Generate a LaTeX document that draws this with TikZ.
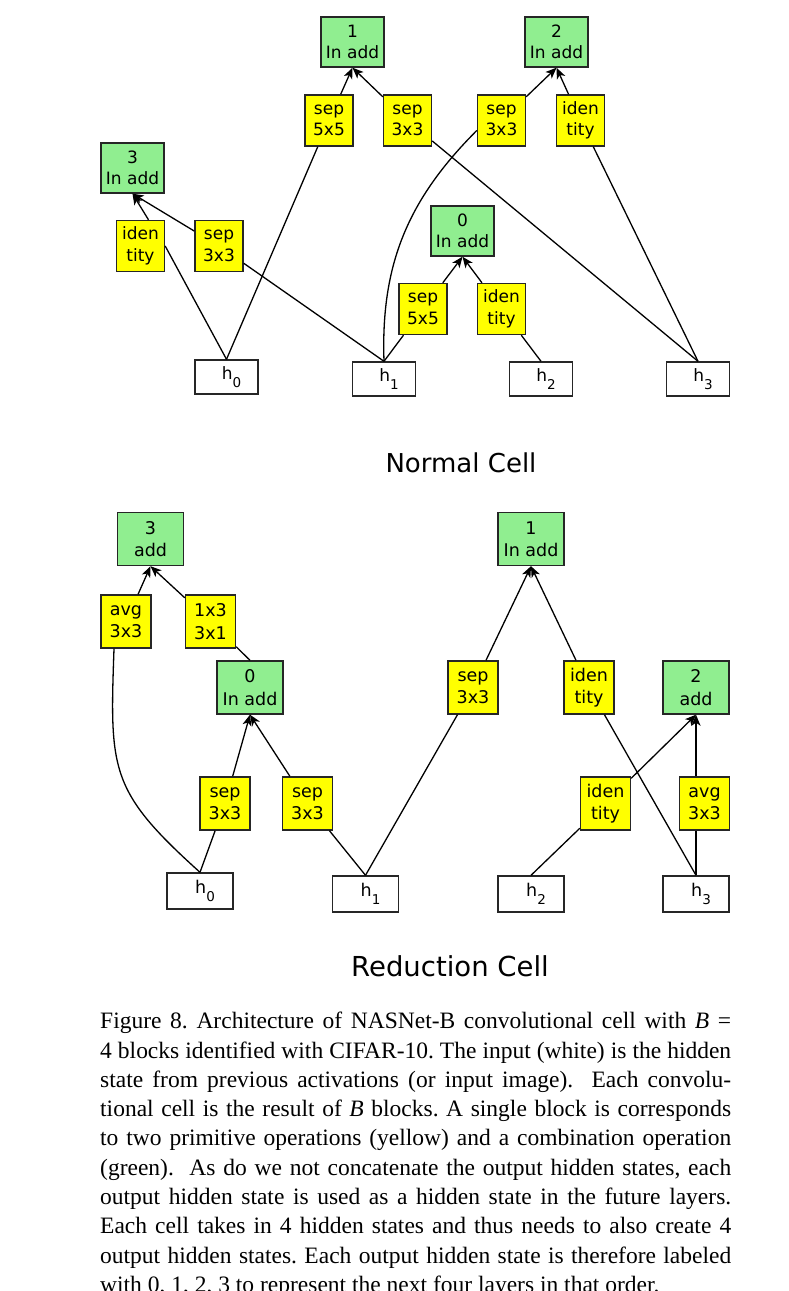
\documentclass[tikz,border=0pt]{standalone}
\usepackage{fontspec}
\setmainfont{DejaVu Sans}
\newfontfamily\capfont{Liberation Serif}
\usetikzlibrary{arrows.meta}
\definecolor{opyellow}{HTML}{FFFF00}
\definecolor{addgreen}{HTML}{90EE90}
\newcommand{\hlab}[1]{\hspace*{10pt}h\raisebox{-7.5pt}{\fontsize{13.5}{14}\selectfont #1}}
\newcommand{\capline}[1]{\makebox[631pt][s]{#1}}

\begin{document}
\begin{tikzpicture}[
    x=1pt, y=-1pt,
    >={Stealth[length=11pt, width=9pt, inset=3pt]},
    every node/.style={font=\fontsize{17}{21.5}\selectfont},
    box/.style={draw=black!85, line width=1.4pt, align=center, inner sep=1pt},
    op/.style={box, fill=opyellow, minimum width=48pt, minimum height=51pt},
    addbox/.style={box, fill=addgreen, minimum width=63pt, minimum height=50pt},
    hstate/.style={box, fill=white, minimum width=63pt, minimum height=34pt},
    rop/.style={op, minimum width=50pt, minimum height=53pt, font=\fontsize{17.5}{22.3}\selectfont},
    raddbox/.style={addbox, minimum width=66pt, minimum height=53pt, font=\fontsize{17.5}{22.3}\selectfont},
    rstate/.style={hstate, minimum width=66pt, minimum height=36pt, font=\fontsize{17.5}{22.3}\selectfont},
    celltitle/.style={inner sep=0pt},
    conn/.style={line width=1.3pt},
    flow/.style={->, line width=1.3pt},
]
\path[use as bounding box, fill=white] (0,0) rectangle (788,1291);

% --- Normal Cell ---
\node[hstate] (h0) at (226.5,377) {\hlab{0}};
\node[hstate] (h1) at (384,379) {\hlab{1}};
\node[hstate] (h2) at (541,379) {\hlab{2}};
\node[hstate] (h3) at (698,379) {\hlab{3}};

\node[addbox] (o0) at (462.5,231) {0\\In add};
\node[op] (p0a) at (423,309) {sep\\5x5};
\node[op] (p0b) at (501.5,309) {iden\\tity};

\node[addbox] (o1) at (352.5,42) {1\\In add};
\node[op] (p1a) at (329,120.5) {sep\\5x5};
\node[op] (p1b) at (407.5,120.5) {sep\\3x3};

\node[addbox] (o2) at (556.5,42) {2\\In add};
\node[op] (p2a) at (501.5,120.5) {sep\\3x3};
\node[op] (p2b) at (580.5,120.5) {iden\\tity};

\node[addbox] (o3) at (132.5,168) {3\\In add};
\node[op] (p3a) at (140.5,246) {iden\\tity};
\node[op] (p3b) at (219,246) {sep\\3x3};

\draw[conn] (h1.north) -- (p0a);
\draw[conn] (h2.north) -- (p0b);
\draw[flow] (p0a) -- (o0.south);
\draw[flow] (p0b) -- (o0.south);

\draw[conn] (h0.north) -- (p1a);
\draw[conn] (h3.north) -- (p1b);
\draw[flow] (p1a) -- (o1.south);
\draw[flow] (p1b) -- (o1.south);

\draw[conn] (h1.north) to[out=92, in=225] ([yshift=-10pt]p2a.west);
\draw[conn] (h3.north) -- (p2b);
\draw[flow] (p2a) -- (o2.south);
\draw[flow] (p2b) -- (o2.south);

\draw[conn] (h0.north) -- (p3a.east);
\draw[conn] (h1.north) -- (p3b);
\draw[flow] ([xshift=8pt]p3a.north) -- (o3.south);
\draw[flow] (p3b) -- (o3.south);

\node[celltitle, font=\fontsize{26}{30}\selectfont] (tn) at (461,463) {Normal Cell};

% --- Reduction Cell ---
\node[rstate] (rh0) at (200,891) {\hlab{0}};
\node[rstate] (rh1) at (365.5,894) {\hlab{1}};
\node[rstate] (rh2) at (531,894) {\hlab{2}};
\node[rstate] (rh3) at (696,894) {\hlab{3}};

\node[raddbox] (ro0) at (250,687.5) {0\\In add};
\node[rop] (rp0a) at (225,803.5) {sep\\3x3};
\node[rop] (rp0b) at (307.5,803.5) {sep\\3x3};

\node[raddbox] (ro1) at (531,539) {1\\In add};
\node[rop] (rp1a) at (473,687.5) {sep\\3x3};
\node[rop] (rp1b) at (589,687.5) {iden\\tity};

\node[raddbox] (ro2) at (696,687.5) {2\\add};
\node[rop] (rp2a) at (605.5,803.5) {iden\\tity};
\node[rop] (rp2b) at (704.5,803.5) {avg\\3x3};

\node[raddbox] (ro3) at (150.5,539) {3\\add};
\node[rop] (rp3a) at (126,621.5) {avg\\3x3};
\node[rop] (rp3b) at (210.5,621.5) {1x3\\3x1};

\draw[conn] (rh0.north) -- (rp0a);
\draw[conn] (rh1.north) -- (rp0b);
\draw[flow] (rp0a) -- (ro0.south);
\draw[flow] (rp0b) -- (ro0.south);

\draw[conn] (rh1.north) -- (rp1a);
\draw[conn] (rh3.north) -- (rp1b);
\draw[flow] (rp1a) -- (ro1.south);
\draw[flow] (rp1b) -- (ro1.south);

\draw[conn] (rh2.north) -- (rp2a);
\draw[conn] (rh3.north) -- (rh3.north |- rp2b.south);
\draw[flow] (rp2a) -- (ro2.south);
\draw[flow] (rp2b.north -| ro2.south) -- (ro2.south);

\draw[conn] (rh0.north) to[out=138, in=-92, looseness=1.3] ([xshift=-12pt]rp3a.south);
\draw[conn] (ro0.north) -- (rp3b);
\draw[flow] (rp3a) -- (ro3.south);
\draw[flow] (rp3b) -- (ro3.south);

\node[celltitle, font=\fontsize{27.5}{31}\selectfont] (tr) at (450,966) {Reduction Cell};

% --- caption ---
\node[anchor=north west, inner sep=0pt, align=left,
      font=\capfont\fontsize{23.5}{29.3}\selectfont\frenchspacing] (cap) at (100,1012) {%
\capline{Figure 8. Architecture of NASNet-B convolutional cell with \textit{B} =}\\
\capline{4 blocks identified with CIFAR-10. The input (white) is the hidden}\\
\capline{state from previous activations (or input image).\ \ Each convolu-}\\
\capline{tional cell is the result of \textit{B} blocks. A single block is corresponds}\\
\capline{to two primitive operations (yellow) and a combination operation}\\
\capline{(green).\ \ As do we not concatenate the output hidden states, each}\\
\capline{output hidden state is used as a hidden state in the future layers.}\\
\capline{Each cell takes in 4 hidden states and thus needs to also create 4}\\
\capline{output hidden states. Each output hidden state is therefore labeled}\\
with 0, 1, 2, 3 to represent the next four layers in that order.};

\end{tikzpicture}
\end{document}
